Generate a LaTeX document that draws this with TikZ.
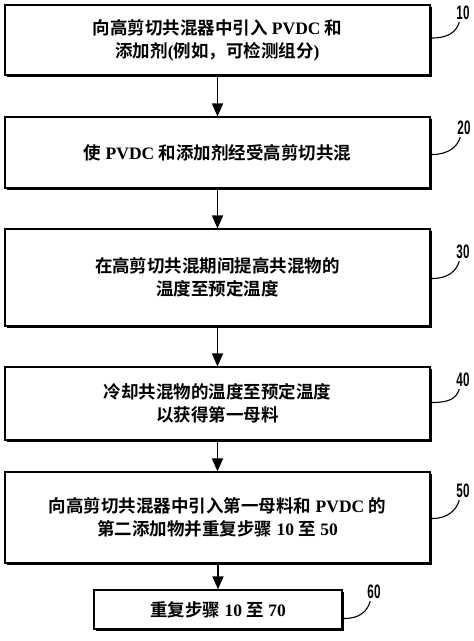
\documentclass[tikz,border=0pt]{standalone}
\usepackage{fontspec}
\setmainfont{Liberation Serif}
\newfontfamily\cjk{Noto Sans CJK SC}[BoldFont={Noto Sans CJK SC Bold}]
\newfontfamily\lblfont{Liberation Sans}[FakeStretch=0.6]
\usetikzlibrary{arrows.meta,shadows}
\newcommand{\zh}[1]{{\cjk #1}}
\begin{document}
\begin{tikzpicture}[x=1pt,y=-1pt,
  stepbox/.style={draw, line width=1.1pt, fill=white, minimum width=425pt, align=center,
    inner sep=0pt, font=\bfseries\fontsize{17.5}{23}\selectfont,
    drop shadow={shadow xshift=1.6pt,shadow yshift=-1.6pt,fill=black,opacity=1}},
  flow/.style={line width=1.3pt, -{Triangle[length=13pt,width=11pt]}},
  leader/.style={line width=1.1pt},
  lbl/.style={font=\lblfont\bfseries\fontsize{19.5}{19.5}\selectfont, inner sep=0pt}]
\useasboundingbox (0,0) rectangle (474,641);
\node[stepbox, minimum height=70pt] (b1) at (217.5,40)
  {\zh{向高剪切共混器中引入} PVDC \zh{和}\\\zh{添加剂}(\zh{例如，可检测组分})};
\node[stepbox, minimum height=71pt] (b2) at (217.5,152.5)
  {\zh{使} PVDC \zh{和添加剂经受高剪切共混}};
\node[stepbox, minimum height=97pt] (b3) at (217.5,277.5)
  {\zh{在高剪切共混期间提高共混物的}\\\zh{温度至预定温度}};
\node[stepbox, minimum height=73pt] (b4) at (217.5,403.5)
  {\zh{冷却共混物的温度至预定温度}\\\zh{以获得第一母料}};
\node[stepbox, minimum height=91pt] (b5) at (217.5,517.5)
  {\zh{向高剪切共混器中引入第一母料和} PVDC \zh{的}\\\zh{第二添加物并重复步骤} 10 \zh{至} 50};
\node[stepbox, minimum width=248pt, minimum height=39pt] (b6) at (218,609.5)
  {\zh{重复步骤} 10 \zh{至} 70};
\draw[flow] (b1) -- (b2);
\draw[flow] (b2) -- (b3);
\draw[flow] (b3) -- (b4);
\draw[flow] (b4) -- (b5);
\draw[flow] (b5.south -| b6.north) -- (b6.north);
\node[lbl] (n10) at (463,13) {10};
\node[lbl] (n20) at (464,128) {20};
\node[lbl] (n30) at (463,252) {30};
\node[lbl] (n40) at (463,380) {40};
\node[lbl] (n50) at (463,491) {50};
\node[lbl] (n60) at (374,592) {60};
\draw[leader] ([xshift=1.5pt,yshift=2pt]b1.east) .. controls +(16,0) and +(-3,10) .. ([xshift=3pt,yshift=-2pt]n10.south west);
\draw[leader] ([xshift=1.5pt,yshift=-2pt]b2.east) .. controls +(16,0) and +(-3,10) .. ([xshift=3pt,yshift=-2pt]n20.south west);
\draw[leader] ([xshift=1.5pt,yshift=-1pt]b3.east) .. controls +(16,0) and +(-3,10) .. ([xshift=3pt,yshift=-2pt]n30.south west);
\draw[leader] ([xshift=1.5pt,yshift=1pt]b4.east) .. controls +(16,0) and +(-3,10) .. ([xshift=3pt,yshift=-2pt]n40.south west);
\draw[leader] ([xshift=1.5pt,yshift=-1pt]b5.east) .. controls +(16,0) and +(-3,10) .. ([xshift=3pt,yshift=-2pt]n50.south west);
\draw[leader] ([xshift=1.5pt,yshift=-9pt]b6.east) .. controls +(16,0) and +(-3,10) .. ([xshift=3pt,yshift=-2pt]n60.south west);
\end{tikzpicture}
\end{document}
